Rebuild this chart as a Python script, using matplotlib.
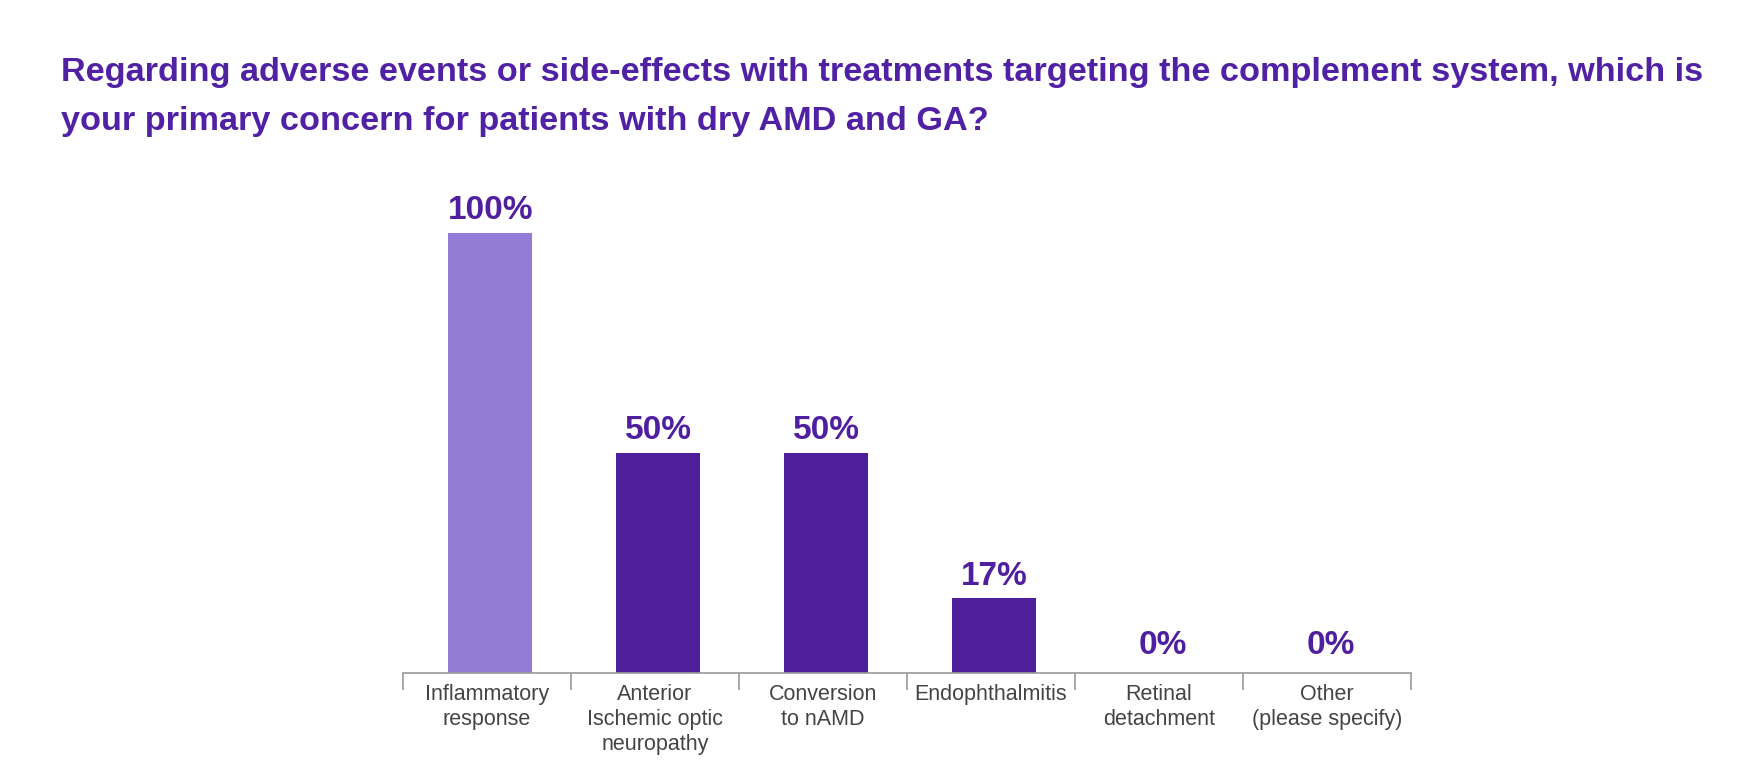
import matplotlib.pyplot as plt
import numpy as np

# Survey data
categories = ['Inflammatory\nresponse', 'Anterior\nIschemic optic\nneuropathy', 'Conversion\nto nAMD',
              'Endophthalmitis', 'Retinal\ndetachment', 'Other\n(please specify)']
percentages = [100, 50, 50, 17, 0, 0]
value_labels = ['100%', '50%', '50%', '17%', '0%', '0%']

title_lines = ['Regarding adverse events or side-effects with treatments targeting the complement system, which is',
               'your primary concern for patients with dry AMD and GA?']

purple_dark = '#4F1F9B'
purple_light = '#937CD6'
text_purple = '#4F1F9F'

plt.rcParams['font.family'] = ['Liberation Sans', 'DejaVu Sans']

fig = plt.figure(figsize=(17.52, 7.8), dpi=100)
ax = fig.add_axes([403 / 1752, 107 / 780, 1008 / 1752, 523 / 780])

x = np.arange(len(categories))
bar_colors = [purple_light] + [purple_dark] * (len(categories) - 1)
ax.bar(x + 0.02, percentages, width=0.5, color=bar_colors, edgecolor='none')

for xi, val, lab in zip(x, percentages, value_labels):
    off = 16 if val > 0 else 20
    ax.annotate(lab, (xi + 0.02, val), xytext=(0, off), textcoords='offset points',
                ha='center', va='center', fontsize=24, fontweight='bold', color=text_purple)

ax.set_xlim(-0.5, len(categories) - 0.5)
ax.set_ylim(0, 118.9)

# category labels on major ticks, boundary ticks as minor
ax.set_xticks(x)
ax.set_xticklabels(categories, fontsize=15.5, color='#444444', linespacing=1.25, va='top')
ax.tick_params(axis='x', which='major', length=0, pad=8)
ax.set_xticks(np.arange(-0.5, len(categories), 1.0), minor=True)
ax.tick_params(axis='x', which='minor', length=12, width=1.2, color='#999999', direction='out')
ax.set_yticks([])

for side in ['top', 'right', 'left']:
    ax.spines[side].set_visible(False)
ax.spines['bottom'].set_color('#999999')
ax.spines['bottom'].set_linewidth(1.2)

fig.text(61 / 1752, 1 - 81 / 780, title_lines[0], fontsize=24.7, fontweight='bold',
         color='#5121A5', ha='left', va='baseline')
fig.text(61 / 1752, 1 - 130 / 780, title_lines[1], fontsize=24.7, fontweight='bold',
         color='#5121A5', ha='left', va='baseline')

plt.savefig('out.png', dpi=100)
